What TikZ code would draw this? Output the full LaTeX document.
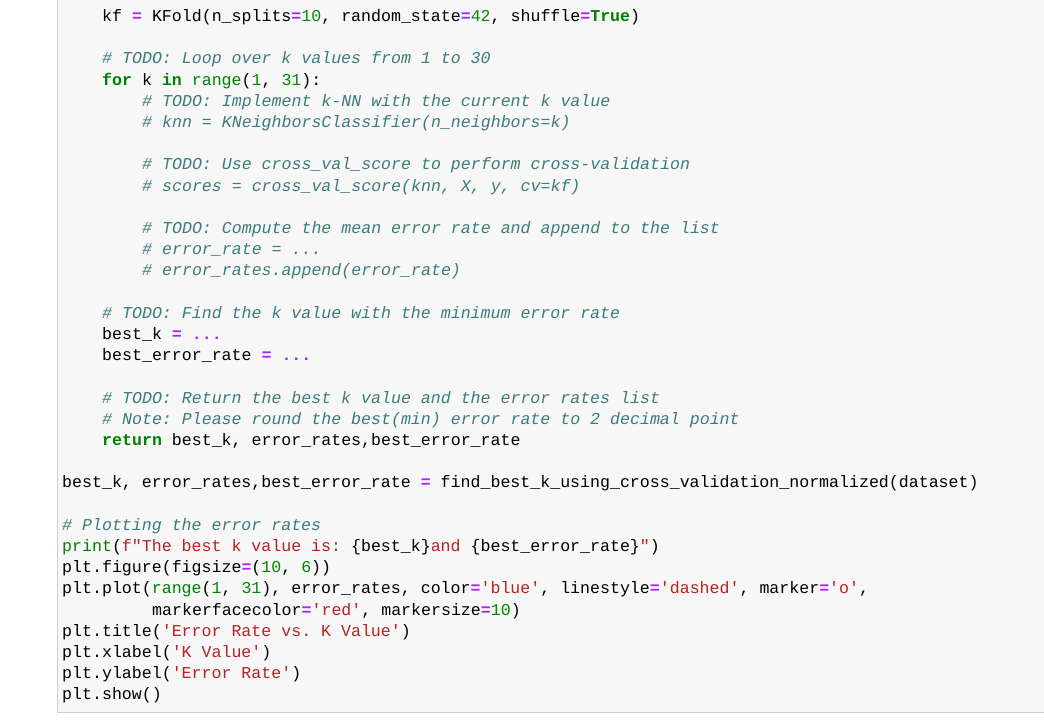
\documentclass[tikz,border=0pt]{standalone}
\usepackage{fontspec}
\setmonofont{Liberation Mono}
\definecolor{kwc}{HTML}{008000}
\definecolor{cmc}{HTML}{3D7B7B}
\definecolor{opc}{HTML}{AA22FF}
\definecolor{nmc}{HTML}{008800}
\definecolor{stc}{HTML}{BA2121}
\definecolor{cellbg}{HTML}{F7F7F7}
\definecolor{cellbd}{HTML}{CFCFCF}
\newcommand\kw[1]{\textcolor{kwc}{\bfseries #1}}
\newcommand\cm[1]{\textcolor{cmc}{\itshape #1}}
\newcommand\op[1]{\textcolor{opc}{\bfseries #1}}
\newcommand\nm[1]{\textcolor{nmc}{#1}}
\newcommand\st[1]{\textcolor{stc}{#1}}
\newcommand\bi[1]{\textcolor{kwc}{#1}}
\newcommand\codeln[3]{\node[code] (l#2) at (#1,{16+21.2*#2+5.5}) {#3};}
\begin{document}
\begin{tikzpicture}[x=1pt,y=-1pt,
  code/.style={anchor=base west,inner sep=0pt,font=\ttfamily\fontsize{16.6}{20}\selectfont,text=black}]
\useasboundingbox (0,0) rectangle (1044,726);
\fill[white] (0,0) rectangle (1044,726);
\draw[cellbd,fill=cellbg] (57,-2) rectangle (1046,712);
\codeln{102}{0}{kf \op{=} KFold(n\_splits\op{=}\nm{10}, random\_state\op{=}\nm{42}, shuffle\op{=}\kw{True})}
\codeln{102}{2}{\cm{\# TODO: Loop over k values from 1 to 30}}
\codeln{102}{3}{\kw{for} k \kw{in} \bi{range}(\nm{1}, \nm{31}):}
\codeln{142}{4}{\cm{\# TODO: Implement k-NN with the current k value}}
\codeln{142}{5}{\cm{\# knn = KNeighborsClassifier(n\_neighbors=k)}}
\codeln{142}{7}{\cm{\# TODO: Use cross\_val\_score to perform cross-validation}}
\codeln{142}{8}{\cm{\# scores = cross\_val\_score(knn, X, y, cv=kf)}}
\codeln{142}{10}{\cm{\# TODO: Compute the mean error rate and append to the list}}
\codeln{142}{11}{\cm{\# error\_rate = ...}}
\codeln{142}{12}{\cm{\# error\_rates.append(error\_rate)}}
\codeln{102}{14}{\cm{\# TODO: Find the k value with the minimum error rate}}
\codeln{102}{15}{best\_k \op{=} \op{...}}
\codeln{102}{16}{best\_error\_rate \op{=} \op{...}}
\codeln{102}{18}{\cm{\# TODO: Return the best k value and the error rates list}}
\codeln{102}{19}{\cm{\# Note: Please round the best(min) error rate to 2 decimal point}}
\codeln{102}{20}{\kw{return} best\_k, error\_rates,best\_error\_rate}
\codeln{62}{22}{best\_k, error\_rates,best\_error\_rate \op{=} find\_best\_k\_using\_cross\_validation\_normalized(dataset)}
\codeln{62}{24}{\cm{\# Plotting the error rates}}
\codeln{62}{25}{\bi{print}(\st{f"The best k value is: }\{best\_k\}\st{ and }\{best\_error\_rate\}\st{"})}
\codeln{62}{26}{plt.figure(figsize\op{=}(\nm{10}, \nm{6}))}
\codeln{62}{27}{plt.plot(\bi{range}(\nm{1}, \nm{31}), error\_rates, color\op{=}\st{'blue'}, linestyle\op{=}\st{'dashed'}, marker\op{=}\st{'o'},}
\codeln{152}{28}{markerfacecolor\op{=}\st{'red'}, markersize\op{=}\nm{10})}
\codeln{62}{29}{plt.title(\st{'Error Rate vs. K Value'})}
\codeln{62}{30}{plt.xlabel(\st{'K Value'})}
\codeln{62}{31}{plt.ylabel(\st{'Error Rate'})}
\codeln{62}{32}{plt.show()}
\end{tikzpicture}
\end{document}
